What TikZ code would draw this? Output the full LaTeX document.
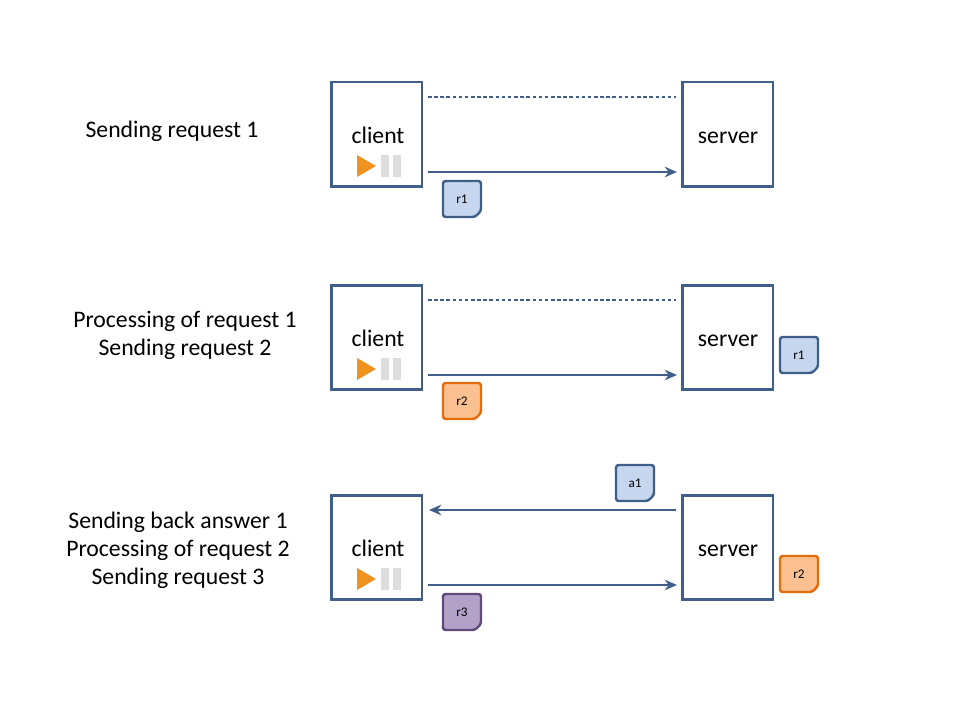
\documentclass[tikz,border=0pt]{standalone}
\usepackage{fontspec}
\setmainfont{Carlito}
\usetikzlibrary{calc,arrows.meta}
\definecolor{frame}{HTML}{3F5F8A}
\definecolor{bluefill}{HTML}{C6D6EE}
\definecolor{orangefill}{HTML}{FAC090}
\definecolor{orangeline}{HTML}{E46C0A}
\definecolor{purplefill}{HTML}{B3A2C7}
\definecolor{purpleline}{HTML}{604A7B}
\definecolor{play}{HTML}{F0921E}
\definecolor{pausebar}{HTML}{DDDDDD}
\tikzset{
	% ---- default
	every node/.style={font=\fontsize{13.5}{16}\selectfont},
	% ---- custom
	box/.style={draw=frame, line width=1.7pt, minimum width=1.82cm, minimum height=2.1cm, inner sep=0pt},
	role/.style={text height=9pt, text depth=3pt},
	msg/.style={-{Stealth[length=7pt, width=6pt]}, frame, line width=1.6pt},
	idle/.style={frame, line width=0.6pt, dash pattern=on 2pt off 1.5pt},
	label/.style={align=center},
}
% note with a folded corner: #1 centre, #2 fill, #3 line, #4 text
\newcommand{\note}[4]{
	\filldraw[fill=#2, draw=#3, line width=1.4pt, rounded corners=1.5]
		($#1+(-19,-18)$) -- ($#1+(19,-18)$) -- ($#1+(19,12)$) -- ($#1+(13,18)$) -- ($#1+(-19,18)$) -- cycle;
	\node[font=\fontsize{7.5}{8}\selectfont] at #1 {#4};
}
\newcommand{\playpause}[1]{
	\fill[play] ($#1+(-19,-11)$) -- ($#1+(0,0)$) -- ($#1+(-19,11)$) -- cycle;
	\fill[pausebar] ($#1+(5,-11)$) rectangle ($#1+(13,11)$);
	\fill[pausebar] ($#1+(17,-11)$) rectangle ($#1+(25,11)$);
}

\begin{document}
\begin{tikzpicture}[x=0.02cm, y=-0.02cm]

% bounding box %{{{2

	\useasboundingbox (0,0) rectangle (960,719);

% row 1 %{{{2

	\node[box] (c1) at (376.5,134.5) {};
	\node[box] (s1) at (727.5,134.5) {};
	\node[role] at (378,138) {client};
	\node[role] at (728,138) {server};
	\playpause{(376,166)}
	\coordinate (c1d) at (428,97);  \coordinate (s1d) at (676,97);
	\coordinate (c1a) at (428,172); \coordinate (s1a) at (677,172);
	\draw[idle] (c1d) -- (s1d);
	\draw[msg] (c1a) -- (s1a);
	\note{(462,199)}{bluefill}{frame}{r1}
	\node[label] (t1) at (172,131) {Sending request 1};

% row 2 %{{{2

	\node[box] (c2) at (376.5,337.5) {};
	\node[box] (s2) at (727.5,337.5) {};
	\node[role] at (378,341) {client};
	\node[role] at (728,341) {server};
	\playpause{(376,369)}
	\coordinate (c2d) at (428,300); \coordinate (s2d) at (676,300);
	\coordinate (c2a) at (428,375); \coordinate (s2a) at (677,375);
	\draw[idle] (c2d) -- (s2d);
	\draw[msg] (c2a) -- (s2a);
	\note{(462,401)}{orangefill}{orangeline}{r2}
	\note{(799,355)}{bluefill}{frame}{r1}
	\node[label] (t2) at (185,335) {Processing of request 1\\Sending request 2};

% row 3 %{{{2

	\node[box] (c3) at (376.5,547.5) {};
	\node[box] (s3) at (727.5,547.5) {};
	\node[role] at (378,551) {client};
	\node[role] at (728,551) {server};
	\playpause{(376,579)}
	\coordinate (c3b) at (429,510); \coordinate (s3b) at (676,510);
	\coordinate (c3a) at (428,585); \coordinate (s3a) at (677,585);
	\draw[msg] (s3b) -- (c3b);
	\draw[msg] (c3a) -- (s3a);
	\note{(635,483)}{bluefill}{frame}{a1}
	\note{(462,612)}{purplefill}{purpleline}{r3}
	\note{(799,574)}{orangefill}{orangeline}{r2}
	\node[label] (t3) at (178,550) {Sending back answer 1\\Processing of request 2\\Sending request 3};

% closing %{{{2

\end{tikzpicture}
\end{document}
